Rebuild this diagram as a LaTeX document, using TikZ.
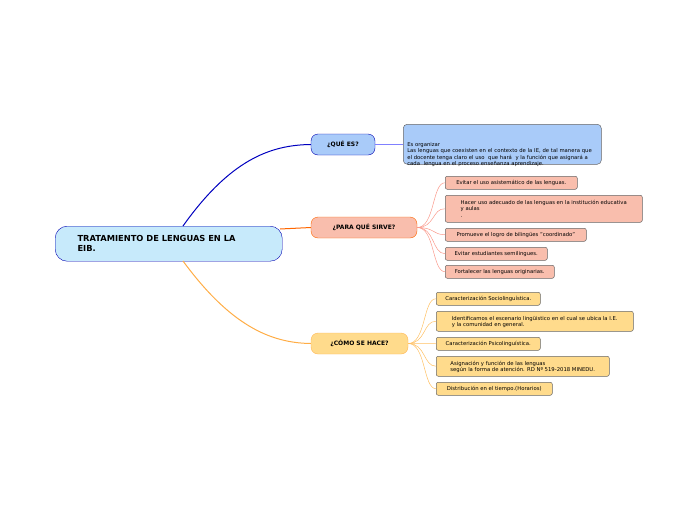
\documentclass[tikz,border=0pt]{standalone}
\usepackage{fontspec}
\setmainfont{DejaVu Sans}
\begin{document}
\begin{tikzpicture}[x=1pt,y=-1pt,
 box/.style={draw=#1,line width=0.5pt,rounded corners=3pt,anchor=north west,inner sep=0pt},
 leaf/.style={rectangle,draw=black!60,line width=0.5pt,rounded corners=2pt,font=\fontsize{5.3}{6.4}\selectfont,align=left,text depth=0pt}]
\useasboundingbox (0,0) rectangle (697,520);
\definecolor{qb}{HTML}{A9CBF9}\definecolor{pr}{HTML}{F9BEAD}\definecolor{cy}{HTML}{FFDB8C}
\definecolor{rb}{HTML}{C7EAFB}
% root
\node[draw=blue!70!black,fill=rb,rounded corners=12pt,minimum width=227pt,minimum height=35pt,anchor=north west,inner sep=0pt] (root) at (55,226) {};
\node[anchor=west,align=left,font=\bfseries\fontsize{8.3}{10}\selectfont] at (74,243.5) {TRATAMIENTO DE LENGUAS EN LA\\EIB.};
% branches
\node[draw=blue!70!black,fill=qb,rounded corners=7pt,minimum width=64pt,minimum height=21pt,font=\bfseries\fontsize{6}{7}\selectfont] (q) at (343,144.5) {¿QUÉ ES?};
\node[draw=orange!80!red,fill=pr,rounded corners=7pt,minimum width=106pt,minimum height=21pt,font=\bfseries\fontsize{6}{7}\selectfont] (p) at (364,227.5) {¿PARA QUÉ SIRVE?};
\node[draw=cy!60!orange,fill=cy,rounded corners=7pt,minimum width=97pt,minimum height=21pt,font=\bfseries\fontsize{6}{7}\selectfont] (c) at (359.5,343.5) {¿CÓMO SE HACE?};
\draw[blue!75!black,line width=1pt] (183,226) .. controls (230,160) and (270,145) .. (q.west);
\draw[orange!80!red,line width=1pt] (280,229) .. controls (295,228) .. (p.west);
\draw[cy!50!orange,line width=1pt] (183,261) .. controls (230,325) and (270,343) .. (c.west);
% desc
\node[leaf,draw=black!60,fill=qb,rounded corners=4pt,minimum width=198pt,minimum height=40pt,text width=190pt,anchor=north west,inner sep=4pt] (d) at (403,124) {Es organizar\\Las lenguas que coexisten en el contexto de la IE, de tal manera que el docente tenga claro el uso\ \ que hará\ \ y la función que asignará a cada\ \ lengua en el proceso enseñanza aprendizaje.};
\draw[blue!50,line width=0.4pt] (q.east) -- (d.west|-q.east);
% para children
\foreach \n/\y/\w/\h/\t in {p1/176/132/13/{Evitar el uso asistemático de las lenguas.},
 p2/195/197/27/{Hacer uso adecuado de las lenguas en la institución educativa\\y aulas\\.},
 p3/228/141/13/{Promueve el logro de bilingües "coordinado"},
 p4/247/102/13/{Evitar estudiantes semilingues.},
 p5/265/109/13/{Fortalecer las lenguas originarias.}}{
 \node[leaf,fill=pr,anchor=north west,minimum width=\w pt,minimum height=\h pt,inner xsep=4pt,inner ysep=2pt] (\n) at (445,\y) {\t};
 \draw[pr!80!red,line width=0.5pt] (p.east) .. controls (435,227.5) and (432,\y+\h/2) .. (\n.west);
}
\foreach \n/\y/\w/\h/\t in {c1/292/104/13/{Caracterización Sociolinguística.},
 c2/311/197/20/{Identificamos el escenario lingüistico en el cual se ubica la I.E.\\y la comunidad en general.},
 c3/337/104/13/{Caracterización Psicolinguística.},
 c4/356/173/20/{Asignación y función de las lenguas\\según la forma de atención. RD Nº 519-2018 MINEDU.},
 c5/382/116/13/{Distribución en el tiempo.(Horarios)}}{
 \node[leaf,fill=cy,anchor=north west,minimum width=\w pt,minimum height=\h pt,inner xsep=4pt,inner ysep=2pt] (\n) at (436,\y) {\t};
 \draw[cy!70!orange,line width=0.5pt] (c.east) .. controls (426,343.5) and (423,\y+\h/2) .. (\n.west);
}
\end{tikzpicture}
\end{document}
